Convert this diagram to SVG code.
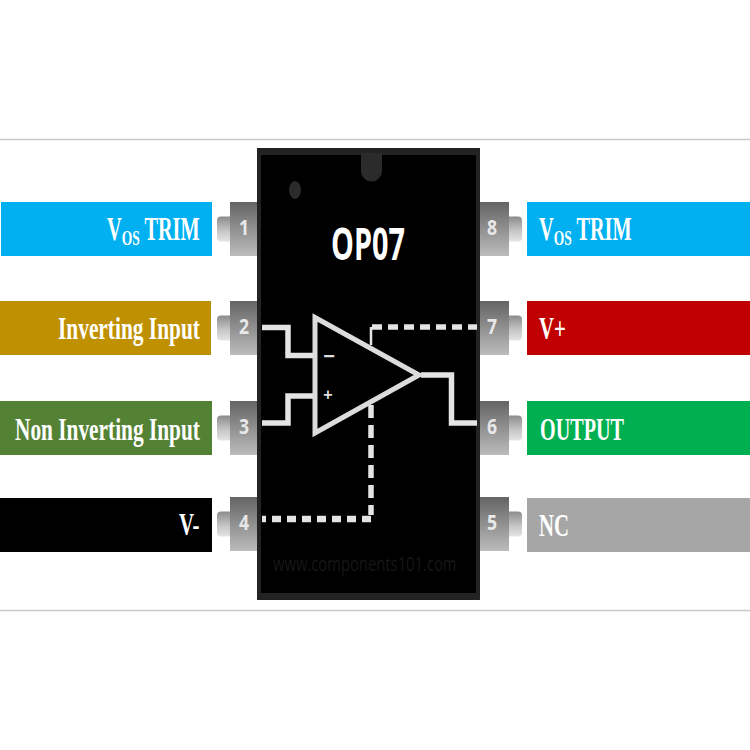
<svg xmlns="http://www.w3.org/2000/svg" xmlns:xlink="http://www.w3.org/1999/xlink" width="750" height="750" viewBox="0 0 750 750">
<style>
.lab{font-family:"Liberation Serif",serif;font-weight:700;font-size:32px;fill:#fff}
.vos{font-size:33px}
.sub{font-size:22px}
.num{font-family:"Open Sans","Liberation Sans",sans-serif;font-weight:700;font-size:22px;fill:#e8e8e8;text-anchor:middle}
.w{fill:none;stroke:#e4e4e4;stroke-width:5.500}
.rule{stroke:#c8c8c8;stroke-width:1.300}
</style>
<defs>
<linearGradient id="blk" x1="0" y1="0" x2="0" y2="1"><stop offset="0" stop-color="#646464"/><stop offset="1" stop-color="#bcbcbc"/></linearGradient>
<linearGradient id="stb" x1="0" y1="0" x2="0" y2="1"><stop offset="0" stop-color="#8c8c8c"/><stop offset="0.6" stop-color="#c8c8c8"/><stop offset="1" stop-color="#e4e4e4"/></linearGradient>
<g id="pinL"><rect x="217" y="-12.500" width="20" height="25" rx="4" fill="url(#stb)"/><rect x="230" y="-27" width="27" height="54" fill="url(#blk)"/></g>
<g id="pinR"><rect x="500" y="-12.500" width="22" height="25" rx="4" fill="url(#stb)"/><rect x="480" y="-27" width="29" height="54" fill="url(#blk)"/></g>
</defs>
<rect width="750" height="750" fill="#fff"/>
<line class="rule" x1="0" y1="139.500" x2="750" y2="139.500"/>
<line class="rule" x1="0" y1="610.500" x2="750" y2="610.500"/>
<g id="label-1"><rect x="1" y="202" width="211" height="54" fill="#00b0f0"/><text class="lab vos" transform="translate(107 240) scale(.615 1)">V<tspan class="sub" dy="5">OS</tspan><tspan dy="-5"> TRIM</tspan></text></g>
<g id="label-2"><rect x="0" y="301" width="211" height="54" fill="#bf9000"/><text class="lab" transform="translate(58 339) scale(.668 1)">Inverting Input</text></g>
<g id="label-3"><rect x="0" y="401" width="212" height="54" fill="#548235"/><text class="lab" transform="translate(15 440) scale(.667 1)">Non Inverting Input</text></g>
<g id="label-4"><rect x="0" y="498" width="212" height="54" fill="#000"/><text class="lab" transform="translate(179 535) scale(.65 1)">V-</text></g>
<g id="label-8"><rect x="527" y="202" width="223" height="54" fill="#00b0f0"/><text class="lab vos" transform="translate(539 240) scale(.615 1)">V<tspan class="sub" dy="5">OS</tspan><tspan dy="-5"> TRIM</tspan></text></g>
<g id="label-7"><rect x="527" y="301" width="223" height="54" fill="#c00000"/><text class="lab" transform="translate(539 339) scale(.65 1)">V+</text></g>
<g id="label-6"><rect x="527" y="401" width="223" height="54" fill="#00b050"/><text class="lab" transform="translate(540 440) scale(.63 1)">OUTPUT</text></g>
<g id="label-5"><rect x="527" y="498" width="223" height="54" fill="#a6a6a6"/><text class="lab" transform="translate(539 536) scale(.65 1)">NC</text></g>
<g id="pin-1"><use xlink:href="#pinL" y="229"/><text class="num" transform="translate(244 235) scale(.8 1)">1</text></g>
<g id="pin-2"><use xlink:href="#pinL" y="328"/><text class="num" transform="translate(244 334) scale(.8 1)">2</text></g>
<g id="pin-3"><use xlink:href="#pinL" y="428"/><text class="num" transform="translate(244 434) scale(.8 1)">3</text></g>
<g id="pin-4"><use xlink:href="#pinL" y="524"/><text class="num" transform="translate(244 530) scale(.8 1)">4</text></g>
<g id="pin-8"><use xlink:href="#pinR" y="229"/><text class="num" transform="translate(492 235) scale(.8 1)">8</text></g>
<g id="pin-7"><use xlink:href="#pinR" y="328"/><text class="num" transform="translate(492 334) scale(.8 1)">7</text></g>
<g id="pin-6"><use xlink:href="#pinR" y="428"/><text class="num" transform="translate(492 434) scale(.8 1)">6</text></g>
<g id="pin-5"><use xlink:href="#pinR" y="524"/><text class="num" transform="translate(492 530) scale(.8 1)">5</text></g>
<g id="chip">
<rect x="257" y="148" width="223" height="452" fill="#232323"/>
<rect x="261" y="155" width="215" height="438" fill="#000"/>
<path d="M361 153V171a10.500 10.500 0 0 0 21 0V153Z" fill="#2b2b2b"/>
<ellipse cx="295" cy="190" rx="6" ry="9" fill="#2b2b2b"/>
<text transform="translate(331 260) scale(.655 1)" font-family="'Open Sans','Liberation Sans',sans-serif" font-weight="700" font-size="44" fill="#fff">OP07</text>
<text transform="translate(273 571) scale(.74 1)" font-family="'Open Sans','Liberation Sans',sans-serif" font-size="20" fill="#171717">www.components101.com</text>
</g>
<g id="connectors">
<path class="w" d="M262 327.500H288V355.500H315"/>
<path class="w" d="M262 423H288V396H315"/>
<path class="w" d="M421 375H451.500V423H477"/>
<path d="M371 345V327" fill="none" stroke="#e4e4e4" stroke-width="2.500"/>
<path class="w" stroke-dasharray="10 6" d="M372 327H477"/>
<path class="w" stroke-dasharray="13 7" d="M371 405V515"/>
<path class="w" stroke-dasharray="9 6" style="stroke-width:6.500" d="M371 519H262"/>
</g>
<g id="opamp">
<path d="M315 317.500L419 375L315 433Z" fill="#000" stroke="#dcdcdc" stroke-width="5"/>
<text x="329" y="363" font-family="'Liberation Sans',sans-serif" font-weight="700" font-size="20" fill="#ddd" text-anchor="middle">−</text>
<text x="328" y="400" font-family="'Liberation Sans',sans-serif" font-weight="700" font-size="16" fill="#ddd" text-anchor="middle">+</text>
</g>
</svg>
